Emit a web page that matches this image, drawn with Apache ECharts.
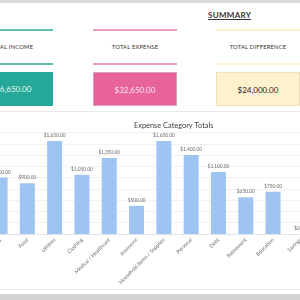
<!DOCTYPE html>
<html>
<head>
<meta charset="utf-8">
<script src="https://cdn.jsdelivr.net/npm/echarts@6/dist/echarts.min.js"></script>
<style>
  html, body { margin: 0; padding: 0; background: #fff; }
  .page { position: relative; width: 300px; height: 300px; overflow: hidden; font-family: Lato, "DejaVu Sans", sans-serif; }
  .topbar { position: absolute; left: 0; top: 0; width: 300px; height: 3px; background: #d9d9d9; }
  .botbar { position: absolute; left: 0; top: 294px; width: 300px; height: 6px; background: #d4d4d4; }
  .summary { position: absolute; left: 208px; top: 10px; font-size: 8px; font-weight: bold; color: #333; text-decoration: underline; letter-spacing: 0.3px; }
  .card { position: absolute; top: 29px; width: 84px; }
  .card .line { height: 2px; }
  .card .label { height: 32px; line-height: 32px; text-align: center; font-size: 5.8px; color: #333; white-space: nowrap; letter-spacing: 0.2px; }
  .card .box { margin-top: 7px; height: 34px; line-height: 34px; text-align: center; font-size: 8px; box-sizing: border-box; white-space: nowrap; }
  #chart { position: absolute; left: 0; top: 110px; width: 300px; height: 182px; }
  .chartTop { position: absolute; left: 0; top: 111px; width: 300px; height: 1px; background: #e8e8e8; }
  .chartBot { position: absolute; left: 0; top: 289px; width: 300px; height: 1px; background: #e8e8e8; }
</style>
</head>
<body>
<div class="page">
  <div class="topbar"></div>
  <div class="summary">SUMMARY</div>

  <div class="card" style="left:-31px">
    <div class="line" style="background:#5cbfb2"></div>
    <div class="label">TOTAL INCOME</div>
    <div class="line" style="background:#5cbfb2"></div>
    <div class="box" style="background:#25a898;color:#e8f6f3">$56,650.00</div>
  </div>
  <div class="card" style="left:93px">
    <div class="line" style="background:#ec9cc0"></div>
    <div class="label">TOTAL EXPENSE</div>
    <div class="line" style="background:#ec9cc0"></div>
    <div class="box" style="background:#e8629b;color:#fbe3ee;border:1px solid #d9a0bb">$32,650.00</div>
  </div>
  <div class="card" style="left:216px">
    <div class="line" style="background:#fdf0d0"></div>
    <div class="label">TOTAL DIFFERENCE</div>
    <div class="line" style="background:#fdf0d0"></div>
    <div class="box" style="background:#fff1cb;color:#222;border:1px solid #efe0bc">$24,000.00</div>
  </div>

  <div class="chartTop"></div>
  <div id="chart"></div>
  <div class="chartBot"></div>
  <div class="botbar"></div>
</div>
<script>
const categories = ['Housing', 'Food', 'Utilities', 'Clothing', 'Medical / Healthcare', 'Insurance',
  'Household Items / Supplies', 'Personal', 'Debt', 'Retirement', 'Education', 'Savings'];
const totals = [1000, 900, 1650, 1050, 1350, 500, 1650, 1400, 1100, 650, 750, 0];

const chart = echarts.init(document.getElementById('chart'));

function money(v) {
  return '$' + v.toLocaleString('en-US', { minimumFractionDigits: 2, maximumFractionDigits: 2 });
}

chart.setOption({
  animation: false,
  title: {
    text: 'Expense Category Totals',
    left: 129,
    top: 7,
    textStyle: { fontFamily: 'Lato', fontSize: 7.4, fontWeight: 'normal', color: '#404040' }
  },
  // chart is wider than the window: first and last bars are cut in half
  grid: { left: -13.6, right: -14, top: 22.5, bottom: 58, containLabel: false, outerBoundsMode: 'none' },
  xAxis: {
    type: 'category',
    data: categories,
    axisLine: { lineStyle: { color: '#e2e2e2' } },
    axisTick: { show: false },
    axisLabel: {
      interval: 0,
      rotate: 45,
      margin: 5,
      fontSize: 5.2,
      fontFamily: 'Lato',
      color: '#6a6a6a'
    }
  },
  yAxis: {
    type: 'value',
    min: 0,
    max: 1800,
    interval: 200,
    axisLabel: { show: false },
    axisLine: { show: false },
    axisTick: { show: false },
    splitLine: { lineStyle: { color: '#f1f1f1' } }
  },
  series: [{
    type: 'bar',
    data: totals,
    barWidth: '55%',
    itemStyle: { color: '#9ec5f1' },
    label: {
      show: true,
      position: 'top',
      distance: 3,
      fontSize: 4.8,
      fontFamily: 'Lato',
      color: '#6a6a6a',
      formatter: (p) => money(p.value)
    }
  }]
});
</script>
</body>
</html>
